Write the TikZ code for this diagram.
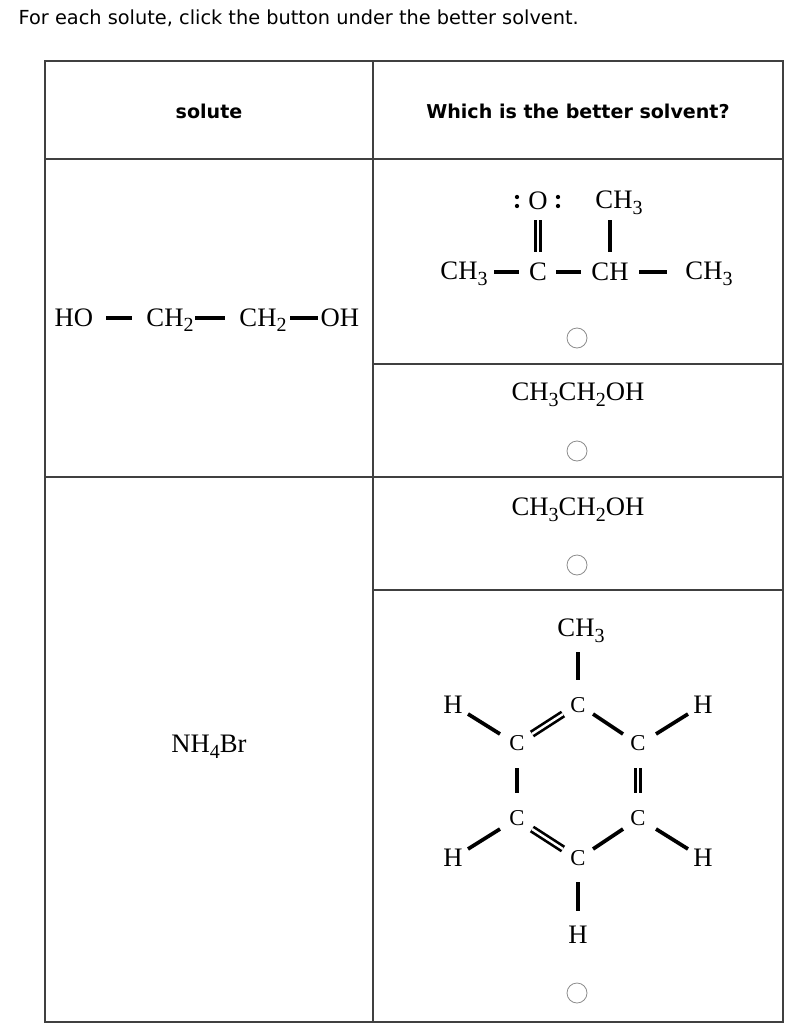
\documentclass[tikz,border=0pt]{standalone}
\usepackage{fontspec}
\setmainfont{Liberation Serif}
\newfontfamily\uifont{DejaVu Sans}
\newcommand\chsub[1]{\raisebox{-0.45ex}{\fontsize{15}{16}\selectfont #1}}
\begin{document}
\begin{tikzpicture}[x=0.75pt,y=-0.75pt,
  grid/.style={draw=black!75,line width=0.8pt},
  chem/.style={font=\fontsize{20}{22}\selectfont,inner sep=1pt},
  ring/.style={font=\fontsize{17}{19}\selectfont,inner sep=1pt},
  bond/.style={line width=2.8pt},
  dbond/.style={line width=2pt,double,double distance=1.8pt},
  radio/.style={circle,draw=black!45,line width=0.6pt,minimum size=15pt,inner sep=0pt},
  hdr/.style={font=\uifont\bfseries\fontsize{14.3}{16}\selectfont}]
\useasboundingbox (0,0) rectangle (789,1024);
\node[anchor=west,font=\uifont\fontsize{14.5}{16}\selectfont] (title) at (14,18) {For each solute, click the button under the better solvent.};
% table
\draw[grid] (45,61) rectangle (783,1022);
\draw[grid] (373,61) -- (373,1022);
\draw[grid] (45,159) -- (783,159);
\draw[grid] (45,477) -- (783,477);
\draw[grid] (373,364) -- (783,364);
\draw[grid] (373,590) -- (783,590);
\node[hdr] (h1) at (209,111) {solute};
\node[hdr] (h2) at (578,111) {Which is the better solvent?};
% ethylene glycol
\node[chem] (g1) at (74,318) {HO};
\node[chem] (g2) at (170,320) {CH\chsub{2}};
\node[chem] (g3) at (263,320) {CH\chsub{2}};
\node[chem] (g4) at (340,318) {OH};
\draw[bond] (106,318) -- (132,318);
\draw[bond] (195,318) -- (225,318);
\draw[bond] (290,318) -- (318,318);
% ketone
\node[chem] (k1) at (464,274) {CH\chsub{3}};
\node[chem] (k2) at (538,272) {C};
\node[chem] (k3) at (610,272) {CH};
\node[chem] (k4) at (709,274) {CH\chsub{3}};
\node[chem] (ko) at (538,201) {O};
\node[chem] (kc) at (619,203) {CH\chsub{3}};
\fill (517,197) circle (1.6pt) (517,206) circle (1.6pt) (558,197) circle (1.6pt) (558,206) circle (1.6pt);
\draw[bond] (494,272) -- (519,272);
\draw[bond] (556,272) -- (581,272);
\draw[bond] (639,272) -- (667,272);
\draw[dbond] (538,220) -- (538,252);
\draw[bond] (610,220) -- (610,252);
\node[radio] (r1) at (577,338) {};
% ethanol
\node[chem] (e1) at (578,395) {CH\chsub{3}CH\chsub{2}OH};
\node[radio] (r2) at (577,451) {};
\node[chem] (e2) at (578,510) {CH\chsub{3}CH\chsub{2}OH};
\node[radio] (r3) at (577,565) {};
% NH4Br
\node[chem] (n) at (209,747) {NH\chsub{4}Br};
% toluene
\node[chem] (tm) at (581,631) {CH\chsub{3}};
\node[ring] (c1) at (578,705) {C};
\node[ring] (c2) at (638,743) {C};
\node[ring] (c3) at (638,818) {C};
\node[ring] (c4) at (578,858) {C};
\node[ring] (c5) at (517,818) {C};
\node[ring] (c6) at (517,743) {C};
\node[chem] (h1a) at (453,705) {H};
\node[chem] (h2a) at (703,705) {H};
\node[chem] (h3a) at (703,858) {H};
\node[chem] (h5a) at (453,858) {H};
\node[chem] (h4a) at (578,935) {H};
\draw[bond] (578,652) -- (578,680);
\draw[bond] (578,882) -- (578,911);
\draw[bond] (468,714) -- (500,734);
\draw[bond] (688,714) -- (656,734);
\draw[bond] (468,849) -- (500,829);
\draw[bond] (688,849) -- (656,829);
\draw[bond] (593,714) -- (623,734);
\draw[bond] (593,849) -- (623,829);
\draw[dbond] (563,714) -- (532,734);
\draw[dbond] (563,849) -- (532,829);
\draw[bond] (517,768) -- (517,793);
\draw[dbond] (638,768) -- (638,793);
\node[radio] (r4) at (577,993) {};
\end{tikzpicture}
\end{document}
